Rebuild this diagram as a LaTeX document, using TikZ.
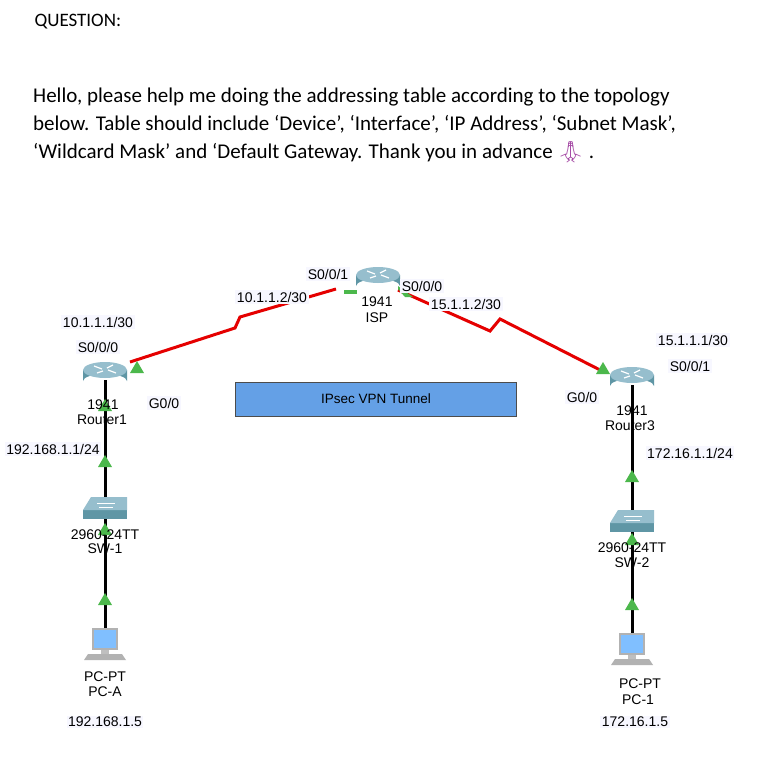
\documentclass[tikz,border=0pt]{standalone}
\usepackage{fontspec}
\setmainfont{Carlito}
\newfontfamily\arial{Liberation Sans}
\newfontfamily\emo{Noto Emoji}
\definecolor{devbody}{RGB}{95,150,165}
\definecolor{devtop}{RGB}{150,190,205}
\definecolor{vpnblue}{RGB}{100,160,230}
\begin{document}
\begin{tikzpicture}[x=1pt,y=-1pt,
 lbl/.style={font=\arial\fontsize{14}{15}\selectfont,inner sep=1.5pt,fill=blue!3},
 nlbl/.style={font=\arial\fontsize{14}{15}\selectfont,inner sep=0pt},
 redl/.style={red!90!black,line width=3pt},
 blk/.style={black,line width=3pt},
 tri/.style={fill=green!60!black!70,draw=none},
]
\useasboundingbox (0,0) rectangle (781,782);
\fill[white] (0,0) rectangle (781,782);
\def\router#1#2{\begin{scope}[shift={(#1)}]
 \fill[devbody] (-22,-5) -- (-22,6) arc[start angle=180,end angle=360,x radius=22,y radius=7] -- (22,-5) -- cycle;
 \fill[devtop] (0,-5) ellipse[x radius=22,y radius=8];
 \draw[white,line width=1.2pt] (-11,-9)--(-3,-6) (11,-2)--(3,-5) (-8,-2)--(-2,-4) (8,-10)--(2,-7);
 \end{scope}\coordinate (#2) at (#1);}
\def\switch#1#2{\begin{scope}[shift={(#1)}]
 \fill[devbody] (-22,0) rectangle (22,9);
 \fill[devtop] (-22,0) -- (-14,-13) -- (22,-13) -- (22,0) -- cycle;
 \draw[white,line width=0.8pt] (-8,-7)--(10,-7) (-6,-3)--(8,-3);
 \end{scope}\coordinate (#2) at (#1);}
\def\pc#1#2{\begin{scope}[shift={(#1)}]
 \fill[gray!60] (-13,-17) rectangle (13,5);
 \fill[blue!50!cyan!50] (-11,-15) rectangle (11,3);
 \fill[gray!50] (-4,5) rectangle (4,9);
 \fill[gray!60] (-17,9) -- (17,9) -- (21,15) -- (-21,15) -- cycle;
 \end{scope}\coordinate (#2) at (#1);}
\node[anchor=west,font=\fontsize{19}{22}\selectfont] (q) at (31,22) {QUESTION:};
\node[anchor=north west,align=left,font=\fontsize{21}{28}\selectfont,inner sep=0pt] (txt) at (33,88)
 {Hello, please help me doing the addressing table according to the topology\\
 below. Table should include ‘Device’, ‘Interface’, ‘IP Address’, ‘Subnet Mask’,\\
 ‘Wildcard Mask’ and ‘Default Gateway. Thank you in advance \raisebox{-1pt}{\emo\textcolor{violet!70}{🙏}} .};
% links
\draw[blk] (105,380) -- (105,640);
\draw[blk] (632,385) -- (632,645);
\draw[redl] (130,362) -- (235,328) -- (240,317) -- (336,289);
\draw[redl] (398,290) -- (490,331) -- (500,319) -- (604,372);
\fill[green!60!black!70] (344,290) rectangle (357,294);
\fill[green!60!black!70] (398,289) -- (405,297) -- (413,297) -- (398,286)--cycle;
\router{378,280}{isp}
\router{105,375}{r1}
\router{632,380}{r3}
\switch{105,510}{sw1}
\switch{632,523}{sw2}
\pc{105,645}{pca}
\pc{632,650}{pc1}
\foreach \p in {{137,368},{105,406},{105,462},{105,530},{105,600},{603,369},{632,477},{632,540},{632,605}}
 \fill[tri] (\p) ++(0,-7) -- ++(7,12) -- ++(-14,0) -- cycle;
% VPN box
\node[draw=black!70,fill=vpnblue,minimum width=281,minimum height=34,font=\arial\fontsize{13.5}{15}\selectfont,inner sep=0pt] (vpn) at (376,399) {IPsec VPN Tunnel};
% labels
\node[lbl] at (328,274) {S0/0/1};
\node[lbl] at (272,297) {10.1.1.2/30};
\node[nlbl] at (377,302) {1941};
\node[nlbl] at (377,318) {ISP};
\node[lbl] at (422,286) {S0/0/0};
\node[lbl] at (466,304) {15.1.1.2/30};
\node[lbl] at (98,322) {10.1.1.1/30};
\node[lbl] at (98,347) {S0/0/0};
\node[nlbl] at (103,405) {1941};
\node[nlbl] at (102,420) {Router1};
\node[lbl] at (164,403) {G0/0};
\node[lbl] at (53,449) {192.168.1.1/24};
\node[nlbl] at (105,535) {2960-24TT};
\node[nlbl] at (105,549) {SW-1};
\node[nlbl] at (105,677) {PC-PT};
\node[nlbl] at (105,692) {PC-A};
\node[lbl] at (105,722) {192.168.1.5};
\node[lbl] at (693,340) {15.1.1.1/30};
\node[lbl] at (690,366) {S0/0/1};
\node[lbl] at (582,397) {G0/0};
\node[nlbl] at (632,411) {1941};
\node[nlbl] at (630,426) {Router3};
\node[lbl] at (690,453) {172.16.1.1/24};
\node[nlbl] at (632,548) {2960-24TT};
\node[nlbl] at (632,563) {SW-2};
\node[nlbl] at (640,684) {PC-PT};
\node[nlbl] at (638,700) {PC-1};
\node[lbl] at (635,722) {172.16.1.5};
\end{tikzpicture}
\end{document}
